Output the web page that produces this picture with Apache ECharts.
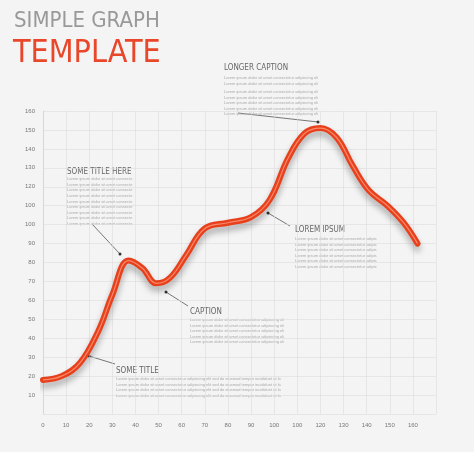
<!DOCTYPE html>
<html><head><meta charset="utf-8">
<script src="https://cdn.jsdelivr.net/npm/echarts@6/dist/echarts.min.js"></script>
<style>html,body{margin:0;background:#f4f4f4}#chart{width:474px;height:452px}</style>
</head><body><div id="chart"></div>
<script>
var xs = [0, 8, 16, 24, 30, 37, 43, 49, 55, 62, 70, 80, 90, 98, 106, 113, 120, 127, 134, 141, 149, 156, 162];
var ys = [18, 20, 27, 44, 63, 81, 77, 69, 72, 84, 98, 101, 104, 113, 135, 148, 151, 146, 131, 118, 110, 101, 90];
var xTickLabels = ['0','10','20','30','40','50','60','70','80','90','100','100','120','130','140','150','160'];
var yTickLabels = ['', '10','20','30','40','50','60','70','80','90','100','100','120','130','140','150','160'];

var lorem = 'Lorem ipsum dolor sit amet consectetur adipiscing elit sed do eiusmod tempor incididunt ut labore';
function para(x, y, w, n) {
  var out = [];
  for (var i = 0; i < n; i++) {
    out.push({type: 'text', left: x, top: y + i * 5.5, style: {text: lorem.slice(0, Math.round(w / 2)), fill: '#aaa', font: '4px sans-serif'}});
  }
  return out;
}
function arrow(x1, y1, x2, y2) {
  return {type: 'line', shape: {x1: x1, y1: y1, x2: x2, y2: y2}, style: {stroke: '#555', lineWidth: 0.8}};
}
function head(x, y) {
  return {type: 'circle', shape: {cx: x, cy: y, r: 1.5}, style: {fill: '#333'}};
}
function title(x, y, t) {
  return {type: 'text', left: x, top: y, style: {text: t, fill: '#666', font: '8px "DejaVu Sans Condensed", sans-serif'}};
}

var graphics = [
  {type: 'text', left: 14, top: 10, style: {text: 'SIMPLE GRAPH', fill: '#999', font: '300 22px "DejaVu Sans Condensed", sans-serif'}},
  {type: 'text', left: 13, top: 38, style: {text: 'TEMPLATE', fill: '#e8472a', font: '32px "DejaVu Sans Condensed", sans-serif'}},
  title(224, 64, 'LONGER CAPTION'),
  title(67, 168, 'SOME TITLE HERE'),
  title(295, 226, 'LOREM IPSUM'),
  title(190, 308, 'CAPTION'),
  title(116, 367, 'SOME TITLE'),
  arrow(238, 113, 318, 122), head(318, 122),
  arrow(92, 224, 120, 254), head(120, 254),
  arrow(290, 226, 268, 213), head(268, 213),
  arrow(188, 306, 166, 292), head(166, 292),
  arrow(115, 364, 89, 356), head(89, 356)
];
graphics = graphics
  .concat(para(224, 76, 105, 2)).concat(para(224, 90, 105, 5))
  .concat(para(67, 177, 70, 3)).concat(para(67, 194, 70, 6))
  .concat(para(295, 237, 90, 6))
  .concat(para(190, 318, 105, 5))
  .concat(para(116, 377, 185, 4));

var chart = echarts.init(document.getElementById('chart'));
chart.setOption({
  backgroundColor: '#f4f4f4',
  animation: false,
  grid: {left: 43, right: 38, top: 111, bottom: 38},
  xAxis: {
    type: 'value', min: 0, max: 170, interval: 10,
    axisLine: {show: false}, axisTick: {show: false},
    axisLabel: {color: '#777', fontSize: 6, formatter: function (v) { return xTickLabels[v / 10] || ''; }},
    splitLine: {lineStyle: {color: '#dcdcdc', width: 0.6}}
  },
  yAxis: {
    type: 'value', min: 0, max: 160, interval: 10,
    axisLine: {show: true, lineStyle: {color: '#ccc', width: 0.6}}, axisTick: {show: false},
    axisLabel: {color: '#777', fontSize: 6, formatter: function (v) { return yTickLabels[v / 10] || ''; }},
    splitLine: {lineStyle: {color: '#dcdcdc', width: 0.6}}
  },
  series: [{
    type: 'line', data: xs.map(function (x, i) { return [x, ys[i]]; }),
    smooth: 0.4, symbol: 'none',
    lineStyle: {color: '#e8401c', width: 6, shadowColor: 'rgba(0,0,0,0.3)', shadowBlur: 6, shadowOffsetY: 5, cap: 'round'}
  }, {
    type: 'line', data: xs.map(function (x, i) { return [x, ys[i]]; }),
    smooth: 0.4, symbol: 'none', silent: true,
    lineStyle: {color: 'rgba(255,170,140,0.7)', width: 1.2}
  }],
  graphic: graphics
});
</script></body></html>
